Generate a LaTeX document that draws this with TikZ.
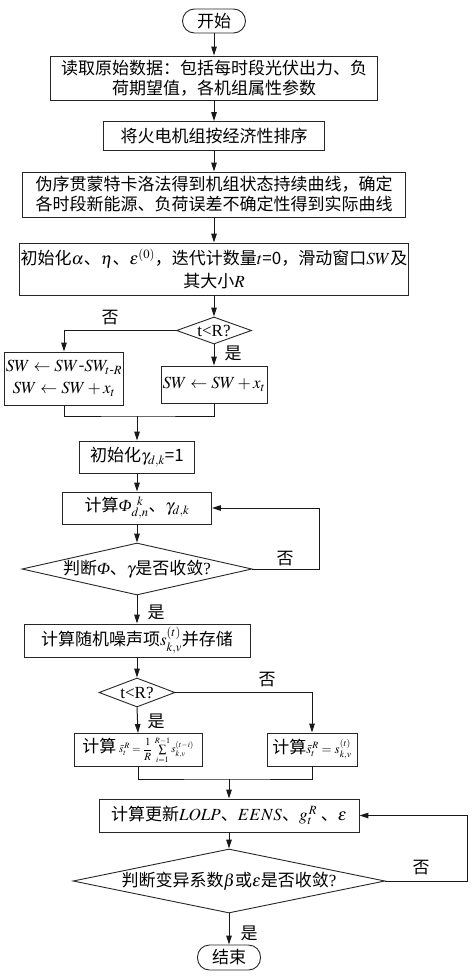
\documentclass[tikz,border=0pt]{standalone}
\usepackage{amsmath}
\usepackage{mathptmx}
\usepackage{fontspec}
\setmainfont{Liberation Serif}
\newfontfamily\cjk{Noto Sans CJK SC}
\usetikzlibrary{arrows.meta,positioning,shapes.geometric}
\newcommand\lat[1]{{\rmfamily #1}}
\newcommand\Phit{\text{\rmfamily\itshape Φ}}
\tikzset{
  base/.style={draw=black!85,line width=0.9pt,align=center,inner sep=1pt,
    font=\cjk\fontsize{17}{20}\selectfont},
  term/.style={base,rounded corners=12pt,minimum width=63pt,minimum height=24pt},
  proc/.style={base},
  decide/.style={base,diamond,inner sep=0pt},
  tag/.style={font=\cjk\fontsize{17}{20}\selectfont,inner sep=1pt},
  arrow/.style={-{Triangle[length=9pt,width=5.5pt]},line width=1pt,black!90},
  link/.style={line width=1pt,black!90}
}

\begin{document}
\begin{tikzpicture}[x=1pt,y=-1pt]
  \useasboundingbox (0,0) rectangle (474,977);
  % main column
  \node[term] (start) at (214,21) {开始};
  \node[proc,minimum width=327pt,minimum height=44pt] (rd) at (214,78)
    {读取原始数据：包括每时段光伏出力、负\\荷期望值，各机组属性参数};
  \node[proc,minimum width=221pt,minimum height=29pt] (sort) at (214,136)
    {将火电机组按经济性排序};
  \node[proc,minimum width=383pt,minimum height=45pt] (mcs) at (214,194.5)
    {伪序贯蒙特卡洛法得到机组状态持续曲线，确定\\各时段新能源、负荷误差不确定性得到实际曲线};
  \node[proc,minimum width=383pt,minimum height=52pt] (init) at (214,269)
    {初始化$\alpha$、$\eta$、$\varepsilon^{(0)}$，迭代计数量$t$=0，滑动窗口$SW$及\\[3pt]其大小$R$};
  \node[decide,minimum width=75pt,minimum height=27pt,aspect=2.8] (chk1) at (214,330.5)
    {\lat{t<R?}};
  % sliding window update
  \node[proc,minimum width=114pt,minimum height=53pt] (swa) at (64,378.5)
    {$SW\leftarrow SW\text{-}SW_{t\text{-}R}$\\[2pt]$SW\leftarrow SW+x_t$};
  \node[proc,minimum width=106pt,minimum height=37pt] (swb) at (214,384.5)
    {$SW\leftarrow SW+x_t$};
  \coordinate (m1) at (137,416);
  \node[proc,minimum width=115pt,minimum height=32pt] (gini) at (137,457)
    {初始化$\gamma_{d,k}$=1};
  \node[proc,minimum width=149pt,minimum height=32pt] (phi) at (137,508)
    {计算$\Phit_{d,n}^{\;\;k}$、$\gamma_{d,k}$};
  \node[decide,minimum width=230pt,minimum height=52pt,aspect=4.4] (conv1) at (137,569)
    {判断$\Phit$、$\gamma$是否收敛\lat{?}};
  \coordinate (c1) at (319,569);
  \node[proc,minimum width=226pt,minimum height=33pt] (noise) at (137,640.5)
    {计算随机噪声项$s_{k,v}^{(t)}$并存储};
  \node[decide,minimum width=76pt,minimum height=29pt,aspect=2.6] (chk2) at (137,692.5)
    {\lat{t<R?}};
  % noise estimate
  \node[proc,minimum width=128pt,minimum height=33pt] (avga) at (138,750)
    {计算\,{\fontsize{11}{12}\selectfont$\bar{s}_t^{\,R}=\dfrac{1}{R}\,\sum\limits_{i=1}^{R-1}s_{k,v}^{(t-i)}$}};
  \node[proc,minimum width=90pt,minimum height=33pt] (avgb) at (312,749.5)
    {计算{\fontsize{13}{14}\selectfont$\bar{s}_t^{\,R}=s_{k,v}^{(t)}$}};
  \coordinate (m2) at (229,779);
  \node[proc,minimum width=260pt,minimum height=33pt] (upd) at (229,815.5)
    {计算更新$LOLP$、$EENS$、$g_t^{\,R}$ 、$\varepsilon$};
  \node[decide,minimum width=312pt,minimum height=64pt,aspect=4.9] (conv2) at (229,881)
    {判断变异系数$\beta$或$\varepsilon$是否收敛\lat{?}};
  \coordinate (c2) at (467,881);
  \node[term,minimum height=25pt] (stop) at (229,957.5) {结束};

  % connectors
  \draw[arrow] (start) -- (rd);
  \draw[arrow] (rd) -- (sort);
  \draw[arrow] (sort) -- (mcs);
  \draw[arrow] (mcs) -- (init);
  \draw[arrow] (init) -- (chk1);
  \draw[arrow] (chk1.west) -| (swa.north);
  \draw[arrow] (chk1.south) -- (swb.north);
  \draw[link] (swa.south) |- (m1) -| (swb.south);
  \draw[arrow] (m1) -- (gini);
  \draw[arrow] (gini) -- (phi);
  \draw[arrow] (phi) -- (conv1);
  \draw[arrow] (conv1.east) -- (c1) |- (phi.east);
  \draw[arrow] (conv1.south) -- (noise.north);
  \draw[arrow] (noise) -- (chk2);
  \draw[arrow] (chk2.east) -| (avgb.north);
  \draw[arrow] (chk2.south) -- (avga.north);
  \draw[link] (avga.south) |- (m2) -| (avgb.south);
  \draw[arrow] (m2) -- (upd);
  \draw[arrow] (upd) -- (conv2);
  \draw[arrow] (conv2.east) -- (c2) |- (upd.east);
  \draw[arrow] (conv2.south) -- (stop.north);

  % branch labels
  \node[tag] at (110,318) {否};
  \node[tag] at (233,353) {是};
  \node[tag] at (285,559) {否};
  \node[tag] at (156,612) {是};
  \node[tag] at (267,680) {否};
  \node[tag] at (156,721) {是};
  \node[tag] at (421,868) {否};
  \node[tag] at (249,933) {是};
\end{tikzpicture}
\end{document}
